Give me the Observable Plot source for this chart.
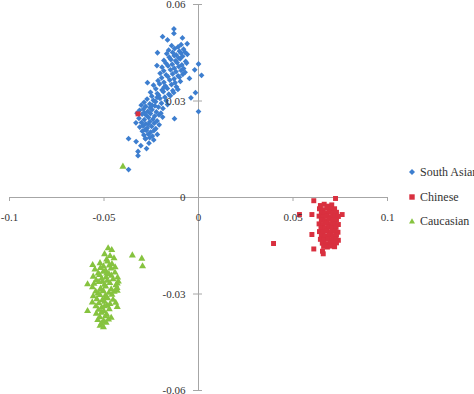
<!DOCTYPE html>
<html>
<head>
<meta charset="utf-8">
<script src="https://cdn.jsdelivr.net/npm/d3@7"></script>
<script src="https://cdn.jsdelivr.net/npm/@observablehq/plot@0.6"></script>
<style>
  html, body { margin: 0; padding: 0; background: #fff; overflow: hidden; }
  #wrap { position: relative; width: 474px; height: 394px; overflow: hidden; font-family: "Liberation Serif", "DejaVu Serif", "Times New Roman", serif; }
  .lg { position: absolute; left: 408px; font-size: 12px; color: #333; white-space: nowrap; display: flex; align-items: center; height: 14px; }
  .lg svg { margin-right: 4px; }
</style>
</head>
<body>
<div id="wrap"></div>
<script>
const xTicks = [-0.1, -0.05, 0, 0.05, 0.1];
const xTickLabels = ["-0.1", "-0.05", "0", "0.05", "0.1"];
const yTicks = [0.06, 0.03, 0, -0.03, -0.06];
const yTickLabels = ["0.06", "0.03", "0", "-0.03", "-0.06"];
const groups = ["South Asian", "Chinese", "Caucasian"];

const southAsian = [
  [-0.013,0.0524],[-0.013,0.051],[-0.019,0.050],[-0.0164,0.049],[-0.0085,0.0496],[-0.006,0.0478],
  [-0.0217,0.045],[-0.022,0.041],[0.000,0.0415],[0.0016,0.038],[-0.002,0.0397],[-0.0048,0.037],
  [-0.0016,0.0326],[-0.004,0.031],[0.000,0.0267],[-0.0127,0.0245],[-0.019,0.025],[-0.027,0.0357],
  [-0.037,0.0183],[-0.033,0.0174],[-0.032,0.0143],[-0.032,0.013],[-0.037,0.0087],[-0.0275,0.0152],[-0.028,0.0183],
  [-0.0142,0.0472],[-0.0108,0.0468],[-0.0092,0.0475],
  [-0.0158,0.0458],[-0.0126,0.0463],[-0.0101,0.0455],[-0.0079,0.0461],
  [-0.0168,0.0447],[-0.0137,0.0451],[-0.0118,0.0443],[-0.0093,0.0449],[-0.0072,0.0452],
  [-0.0155,0.0436],[-0.0128,0.0441],[-0.0105,0.0434],[-0.0084,0.0439],[-0.0059,0.0445],
  [-0.0183,0.0426],[-0.0146,0.0429],[-0.0121,0.0425],[-0.0097,0.0431],[-0.0068,0.0423],
  [-0.0172,0.0417],[-0.0139,0.0414],[-0.0113,0.0419],[-0.0088,0.0412],[-0.0063,0.0418],
  [-0.0193,0.0405],[-0.0161,0.0409],[-0.0128,0.0402],[-0.0104,0.0407],[-0.0079,0.0401],
  [-0.0184,0.0394],[-0.0148,0.0397],[-0.0119,0.0391],[-0.0092,0.0395],[-0.0071,0.0389],
  [-0.0203,0.0386],[-0.0171,0.0381],[-0.0137,0.0384],[-0.0108,0.0378],[-0.0083,0.0383],
  [-0.0195,0.0372],[-0.0162,0.0376],[-0.0129,0.0369],[-0.0101,0.0374],
  [-0.0214,0.0363],[-0.0183,0.0358],[-0.0152,0.0365],[-0.0124,0.0357],[-0.0096,0.0361],
  [-0.0238,0.0349],[-0.0206,0.0353],[-0.0174,0.0346],[-0.0143,0.0351],[-0.0117,0.0344],
  [-0.0226,0.0338],[-0.0193,0.0334],[-0.0165,0.0339],[-0.0136,0.0332],[-0.0109,0.0336],
  [-0.0254,0.0327],[-0.0218,0.0323],[-0.0186,0.0329],[-0.0157,0.0321],[-0.0131,0.0326],
  [-0.0247,0.0315],[-0.0211,0.0318],[-0.0178,0.0312],[-0.0149,0.0316],
  [-0.0272,0.0306],[-0.0239,0.0302],[-0.0204,0.0308],[-0.0171,0.0301],
  [-0.0288,0.0296],[-0.0258,0.0291],[-0.0227,0.0298],[-0.0196,0.0293],[-0.0164,0.0289],
  [-0.0303,0.0287],[-0.0279,0.0283],[-0.0256,0.0279],[-0.0231,0.0285],[-0.0212,0.0281],[-0.0188,0.0277],
  [-0.0312,0.0271],[-0.0291,0.0275],[-0.0268,0.0268],[-0.0246,0.0273],[-0.0223,0.0266],[-0.0199,0.0262],
  [-0.0298,0.0259],[-0.0276,0.0255],[-0.0254,0.0261],[-0.0232,0.0253],[-0.0209,0.0257],
  [-0.0315,0.0246],[-0.0287,0.0242],[-0.0265,0.0249],[-0.0241,0.0244],[-0.0219,0.0238],
  [-0.0302,0.0233],[-0.0279,0.0229],[-0.0257,0.0236],[-0.0234,0.0231],[-0.0208,0.0226],
  [-0.0311,0.0219],[-0.0293,0.0223],[-0.0271,0.0216],[-0.0248,0.0221],[-0.0226,0.0214],
  [-0.0297,0.0206],[-0.0276,0.0209],[-0.0254,0.0203],[-0.0236,0.0208],
  [-0.0289,0.0194],[-0.0266,0.0197],[-0.0244,0.0191],[-0.0218,0.0196],
  [-0.0281,0.0183],[-0.0258,0.0186],[-0.0237,0.0179],
  [-0.0325,0.0262],[-0.0331,0.0232],[-0.0305,0.0161],[-0.0262,0.0169],
  [-0.0287,0.0264],[-0.0265,0.0228],[-0.0283,0.0211],[-0.0246,0.0287],[-0.0219,0.0311],[-0.0182,0.0343]
];

const chinese = [
  [-0.032,0.026],
  [0.0397,-0.0143],[0.0534,-0.0053],[0.061,-0.001],[0.0725,-0.0003],[0.076,-0.0053],[0.060,-0.0053],
  [0.060,-0.0115],[0.074,-0.0133],[0.061,-0.016],[0.0656,-0.0167],[0.0660,-0.0175],
  [0.0645,-0.0025],[0.0665,-0.0021],[0.0685,-0.0027],[0.0705,-0.0023],
  [0.0640,-0.0035],[0.0660,-0.0038],[0.0680,-0.0033],[0.0700,-0.0037],[0.0720,-0.0035],
  [0.0650,-0.0047],[0.0670,-0.0049],[0.0690,-0.0045],[0.0710,-0.0048],[0.0730,-0.0046],
  [0.0638,-0.0058],[0.0660,-0.0061],[0.0680,-0.0057],[0.0700,-0.0060],[0.0720,-0.0056],[0.0740,-0.0059],
  [0.0650,-0.0070],[0.0670,-0.0072],[0.0690,-0.0068],[0.0710,-0.0071],[0.0730,-0.0069],
  [0.0638,-0.0082],[0.0660,-0.0084],[0.0680,-0.0080],[0.0700,-0.0083],[0.0720,-0.0081],[0.0740,-0.0084],
  [0.0648,-0.0094],[0.0668,-0.0096],[0.0688,-0.0092],[0.0708,-0.0095],[0.0728,-0.0093],
  [0.0640,-0.0106],[0.0660,-0.0108],[0.0680,-0.0104],[0.0700,-0.0107],[0.0720,-0.0105],[0.0738,-0.0108],
  [0.0650,-0.0118],[0.0670,-0.0120],[0.0690,-0.0116],[0.0710,-0.0119],[0.0730,-0.0117],
  [0.0645,-0.0130],[0.0665,-0.0132],[0.0685,-0.0128],[0.0705,-0.0131],[0.0725,-0.0129],
  [0.0655,-0.0142],[0.0675,-0.0144],[0.0695,-0.0140],[0.0715,-0.0143],[0.0730,-0.0141],
  [0.0662,-0.0152],[0.0682,-0.0154],[0.0702,-0.0151],[0.0720,-0.0153]
];

const caucasian = [
  [-0.040,0.0096],
  [-0.035,-0.018],[-0.030,-0.019],[-0.0296,-0.0214],[-0.0587,-0.0353],[-0.043,-0.034],
  [-0.056,-0.021],[-0.0587,-0.027],[-0.043,-0.0267],[-0.043,-0.029],
  [-0.0478,-0.0158],[-0.0459,-0.0163],
  [-0.0497,-0.0176],[-0.0468,-0.0182],
  [-0.0486,-0.0193],[-0.0447,-0.0189],
  [-0.0521,-0.0204],[-0.0482,-0.0199],[-0.0458,-0.0207],
  [-0.0503,-0.0214],[-0.0472,-0.0211],[-0.0441,-0.0217],
  [-0.0548,-0.0224],[-0.0519,-0.0219],[-0.0492,-0.0227],[-0.0463,-0.0221],
  [-0.0531,-0.0236],[-0.0504,-0.0231],[-0.0474,-0.0238],[-0.0442,-0.0233],
  [-0.0557,-0.0246],[-0.0523,-0.0241],[-0.0489,-0.0248],[-0.0461,-0.0243],[-0.0428,-0.0249],
  [-0.0541,-0.0257],[-0.0512,-0.0252],[-0.0483,-0.0259],[-0.0452,-0.0254],[-0.0424,-0.0261],
  [-0.0553,-0.0268],[-0.0527,-0.0263],[-0.0498,-0.0271],[-0.0469,-0.0266],[-0.0437,-0.0273],
  [-0.0561,-0.0279],[-0.0518,-0.0283],[-0.0491,-0.0277],[-0.0462,-0.0285],[-0.0431,-0.0281],
  [-0.0544,-0.0292],[-0.0532,-0.0298],[-0.0503,-0.0291],[-0.0474,-0.0296],[-0.0446,-0.0293],
  [-0.0557,-0.0307],[-0.0521,-0.0303],[-0.0489,-0.0309],[-0.0458,-0.0302],
  [-0.0538,-0.0316],[-0.0509,-0.0319],[-0.0481,-0.0313],[-0.0452,-0.0318],
  [-0.0562,-0.0326],[-0.0527,-0.0329],[-0.0497,-0.0324],[-0.0468,-0.0331],[-0.0438,-0.0327],
  [-0.0543,-0.0338],[-0.0512,-0.0342],[-0.0484,-0.0336],
  [-0.0529,-0.0349],[-0.0501,-0.0353],[-0.0472,-0.0347],
  [-0.0541,-0.0361],[-0.0514,-0.0358],[-0.0486,-0.0364],
  [-0.0522,-0.0372],[-0.0493,-0.0369],[-0.0462,-0.0374],
  [-0.0533,-0.0381],[-0.0502,-0.0384],[-0.0476,-0.0379],
  [-0.0514,-0.0392],[-0.0489,-0.0389],
  [-0.0521,-0.0399],[-0.0503,-0.0403],
  [-0.0508,-0.0262],[-0.0493,-0.0305],[-0.0516,-0.0287],[-0.0497,-0.0338],[-0.0486,-0.0236]
];

const colors = ["#3d7ecf", "#d9303f", "#86c33f"];
const axisColor = "#a6a6a6";
const serif = "'Liberation Serif', 'DejaVu Serif', 'Times New Roman', serif";

const chart = Plot.plot({
  width: 474,
  height: 394,
  marginLeft: 9,
  marginRight: 87,
  marginTop: 4,
  marginBottom: 4,
  style: { fontFamily: serif, fontSize: "11px", background: "transparent", overflow: "visible" },
  x: { domain: [-0.1, 0.1], axis: null },
  y: { domain: [-0.06, 0.06], axis: null },
  marks: [
    Plot.ruleY([0], { x1: -0.1, x2: 0.1, stroke: axisColor }),
    Plot.ruleX([0], { y1: -0.06, y2: 0.06, stroke: axisColor }),
    Plot.ruleX(xTicks, { x: d => d, y1: 0, y2: 0, insetBottom: -4, stroke: axisColor }),
    Plot.ruleY(yTicks, { y: d => d, x1: 0, x2: 0, insetLeft: -5, insetRight: -4, stroke: axisColor }),
    Plot.dot(southAsian, { x: d => d[0], y: d => d[1], symbol: "diamond2", r: 2.6, fill: colors[0], stroke: null }),
    Plot.dot(caucasian, { x: d => d[0], y: d => d[1], symbol: "triangle", r: 2.6, fill: colors[2], stroke: null }),
    Plot.dot(chinese, { x: d => d[0], y: d => d[1], symbol: "square", r: 2.8, fill: colors[1], stroke: null }),
    Plot.text(xTicks, { x: d => d, y: 0, dy: 20, text: (d, i) => xTickLabels[i], fill: "#333", fontSize: 11, fontFamily: serif }),
    Plot.text(yTicks, { x: 0, y: d => d, dx: -13, text: (d, i) => yTickLabels[i], textAnchor: "end", fill: "#333", fontSize: 11, fontFamily: serif })
  ]
});

const wrap = document.getElementById("wrap");
wrap.appendChild(chart);

const shapes = [
  '<polygon points="4,1 7,4 4,7 1,4" fill="' + colors[0] + '"/>',
  '<rect x="1.3" y="1.3" width="5.4" height="5.4" fill="' + colors[1] + '"/>',
  '<polygon points="4,1.2 7,6.5 1,6.5" fill="' + colors[2] + '"/>'
];
const rowY = [172, 197, 221];
groups.forEach((g, i) => {
  const div = document.createElement("div");
  div.className = "lg";
  div.style.top = (rowY[i] - 7) + "px";
  div.innerHTML = '<svg width="8" height="8" viewBox="0 0 8 8">' + shapes[i] + '</svg><span>' + g + '</span>';
  wrap.appendChild(div);
});
</script>
</body>
</html>
